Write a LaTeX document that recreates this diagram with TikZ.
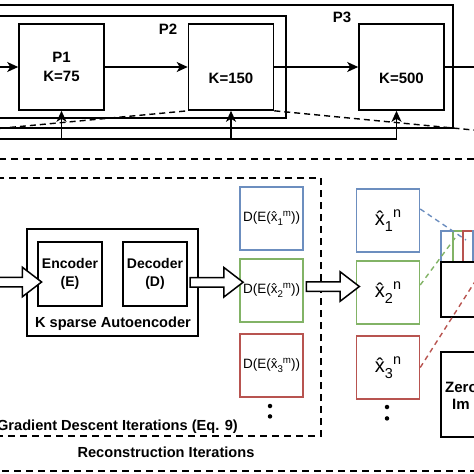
\documentclass[tikz,border=0pt]{standalone}
\usepackage{fontspec}
\setmainfont{Liberation Sans}
\usetikzlibrary{arrows.meta}
\usetikzlibrary{positioning}
\usetikzlibrary{calc}
\usetikzlibrary{shapes.arrows}
\definecolor{bluebox}{HTML}{6C8EBF}
\definecolor{greenbox}{HTML}{82B366}
\definecolor{redbox}{HTML}{B85450}
\newcommand{\patchx}[2]{\^{x}\raisebox{-0.3em}{\scalebox{0.72}{#1}}\raisebox{0.42em}{\scalebox{0.72}{#2}}}
\tikzset{
    stage/.style={
        rectangle,
        draw=black,
        line width=1.6pt,
        minimum width=85pt,
        minimum height=86pt,
        inner sep=0pt,
        align=center,
        font=\fontsize{15}{19}\selectfont\bfseries
    },
    unit/.style={
        rectangle,
        draw=black,
        line width=1.6pt,
        minimum width=64pt,
        minimum height=64pt,
        inner sep=0pt,
        align=center,
        font=\fontsize{14}{18}\selectfont\bfseries
    },
    patch/.style={
        rectangle,
        draw=#1,
        line width=1.5pt,
        minimum width=63pt,
        minimum height=63pt,
        inner sep=0pt
    },
    flow/.style={
        -{Stealth[length=11pt,width=10pt,inset=3pt]},
        line width=1.4pt
    },
    zoomline/.style={line width=1.4pt, dash pattern=on 6pt off 4pt},
    region/.style={draw=black, line width=1.5pt, dash pattern=on 7pt off 5pt},
    hollow/.style={
        single arrow,
        draw=black,
        fill=white,
        line width=1.5pt,
        inner xsep=0pt,
        inner ysep=4pt,
        single arrow head extend=10pt,
        single arrow tip angle=75,
        minimum height=#1
    },
    caption/.style={font=\fontsize{14.6}{16}\selectfont\bfseries, inner sep=0pt},
    dot/.style={circle, fill=black, inner sep=0pt, minimum size=4.5pt}
}

\begin{document}
\begin{tikzpicture}[x=1pt, y=-1pt]
        \useasboundingbox (0,0) rectangle (474,474);
        \clip (0,0) rectangle (474,474);

        % Scales
        \node (p1) [stage] at (61.5,67) {P1\\K=75};
        \node (k150) [stage] at (231,67) {};
        \node (k150text) [caption, font=\fontsize{15}{18}\selectfont\bfseries] at ([yshift=-11pt]k150.center) {K=150};
        \node (k500) [stage] at (401.5,67) {};
        \node (k500text) [caption, font=\fontsize{15}{18}\selectfont\bfseries] at ([yshift=-11pt]k500.center) {K=500};
        \draw [line width=1.5pt] (-10,16) rectangle (286,118);
        \draw [line width=1.5pt] (-10,5) rectangle (453,128);
        \node (p2text) [caption, font=\fontsize{15}{18}\selectfont\bfseries] at (168,29) {P2};
        \node (p3text) [caption, font=\fontsize{15}{18}\selectfont\bfseries] at (342,17) {P3};

        % Arrows between scales
        \coordinate (instart) at (-10,67);
        \coordinate (outend) at (490,67);
        \draw [flow] (instart) -- (p1);
        \draw [flow] (p1) -- (k150);
        \draw [flow] (k150) -- (k500);
        \draw [line width=1.4pt] (k500) -- (outend);

        % Feedback
        \coordinate (fb) at (-10,139);
        \draw [flow] (fb) -| ([xshift=-5pt]k500.south);
        \draw [flow] (p1.south |- fb) -- (p1.south);
        \draw [flow] (k150.south |- fb) -- (k150.south);

        % Zoom lines
        \coordinate (zl) at (-10,129.3);
        \coordinate (zr) at (490,131.6);
        \draw [zoomline] (zl) -- (k150.south west);
        \draw [zoomline] (k150.south east) -- (zr);

        % Iteration regions
        \draw [region] (-10,159) rectangle (490,471);
        \draw [region] (-10,178) rectangle (321,436);
        \node (gdtext) [caption, anchor=east] at (238,427) {Gradient Descent Iterations (Eq. 9)};
        \node (rectext) [caption] at (166,452) {Reconstruction Iterations};

        % Autoencoder
        \node (enc) [unit] at (70,274) {Encoder\\(E)};
        \node (dec) [unit] at (155,274) {Decoder\\(D)};
        \draw [line width=1.6pt] (27,229) rectangle (198,336);
        \node (aetext) [caption] at (113,324) {K sparse Autoencoder};

        % Decoded patches
        \node (dx1) [patch=bluebox, font=\fontsize{13.5}{15}\selectfont] at (271.5,218.5) {D(E(\patchx{1}{m}))};
        \node (dx2) [patch=greenbox, font=\fontsize{13.5}{15}\selectfont] at (271.5,290.5) {D(E(\patchx{2}{m}))};
        \node (dx3) [patch=redbox, font=\fontsize{13.5}{15}\selectfont] at (271.5,365.5) {D(E(\patchx{3}{m}))};
        \node (d1a) [dot] at (270,406) {};
        \node (d1b) [dot, below=5.5pt of d1a] {};

        % Updated patches
        \node (xn1) [patch=bluebox, font=\fontsize{20}{22}\selectfont] at (388,220.5) {\patchx{1}{n}};
        \node (xn2) [patch=greenbox, font=\fontsize{20}{22}\selectfont] at (388,292.5) {\patchx{2}{n}};
        \node (xn3) [patch=redbox, font=\fontsize{20}{22}\selectfont] at (388,367.5) {\patchx{3}{n}};
        \node (d2a) [dot] at (387,407) {};
        \node (d2b) [dot, below=6.5pt of d2a] {};

        % Block arrows
        \node (in) [hollow=51pt] at (13,282) {};
        \node (mid) [hollow=53pt] at ($(dec.east)!0.5!(dx2.west)$) {};
        \node (upd) [hollow=53pt] at ($($(dx2.east)!0.5!(xn2.west)$)+(0,-5)$) {};

        % Image strip
        \draw [bluebox, line width=1.5pt] (441,231) rectangle (453,262);
        \draw [greenbox, line width=1.5pt] (453,231) rectangle (463,262);
        \draw [redbox, line width=1.5pt] (463,231) rectangle (473,262);
        \draw [bluebox, line width=1.5pt] (473,231) rectangle (485,262);
        \draw [line width=1.6pt] (441,262) rectangle (490,317);
        \draw [line width=1.6pt] (441,352) rectangle (490,437);
        \node (zerotext) [caption, font=\fontsize{15}{18}\selectfont\bfseries, anchor=west] at (445,387) {Zero};
        \node (imtext) [caption, font=\fontsize{15}{18}\selectfont\bfseries, anchor=west] at (452,404) {Im};

        % Patch positions
        \coordinate (b1) at (466,240);
        \coordinate (g1) at (455,238);
        \coordinate (r1) at (490,258);
        \draw [bluebox, line width=1.4pt, dash pattern=on 5pt off 4pt] (xn1.east |- 0,209) -- (b1);
        \draw [greenbox, line width=1.4pt, dash pattern=on 5pt off 4pt] (xn2.east |- 0,285) -- (g1);
        \draw [redbox, line width=1.4pt, dash pattern=on 5pt off 4pt] (xn3.east) -- (r1);

    \end{tikzpicture}
\end{document}
